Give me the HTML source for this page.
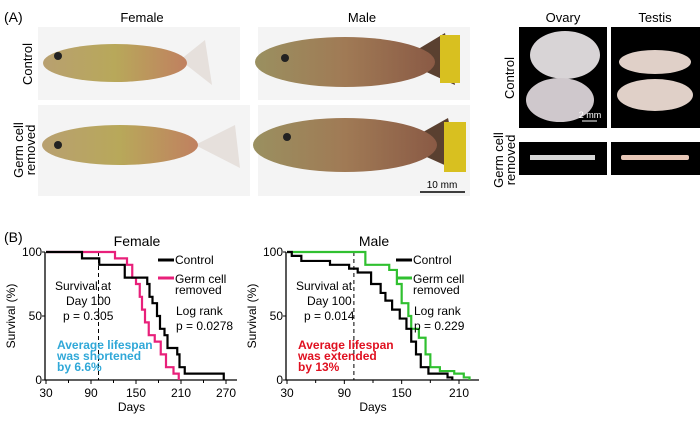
<!DOCTYPE html>
<html><head><meta charset="utf-8"><style>
body{margin:0;background:#fff;width:700px;height:422px;overflow:hidden;font-family:"Liberation Sans",sans-serif}
</style></head><body>
<svg width="700" height="422" viewBox="0 0 700 422" font-family="Liberation Sans, sans-serif">
<defs>
<linearGradient id="ff" x1="0" y1="0" x2="1" y2="0"><stop offset="0" stop-color="#b8a070"/><stop offset="0.5" stop-color="#b8a85a"/><stop offset="1" stop-color="#c08060"/></linearGradient>
<linearGradient id="mf" x1="0" y1="0" x2="1" y2="0"><stop offset="0" stop-color="#9a9060"/><stop offset="0.5" stop-color="#a07a55"/><stop offset="1" stop-color="#8a5a45"/></linearGradient>
</defs>
<text x="4" y="22" font-size="14">(A)</text>
<text x="142" y="22" font-size="13" text-anchor="middle">Female</text>
<text x="362" y="22" font-size="13" text-anchor="middle">Male</text>
<text transform="translate(32,64) rotate(-90)" font-size="13" text-anchor="middle">Control</text>
<text transform="translate(23,150) rotate(-90)" font-size="13" text-anchor="middle"><tspan x="0" dy="0">Germ cell</tspan><tspan x="0" dy="12">removed</tspan></text>
<g><rect x="38" y="27" width="202" height="73" fill="#f4f4f4"/><path d="M180 60 L205 40 L212 85 Z" fill="#e6e0dc"/><ellipse cx="115" cy="63" rx="72" ry="19" fill="url(#ff)"/><circle cx="58" cy="56" r="4" fill="#222"/></g>
<g><rect x="38" y="105" width="212" height="91" fill="#f4f4f4"/><path d="M195 145 L235 125 L240 168 Z" fill="#e6e0dc"/><ellipse cx="120" cy="145" rx="78" ry="20" fill="url(#ff)"/><circle cx="58" cy="145" r="4" fill="#222"/></g>
<g><rect x="258" y="27" width="212" height="73" fill="#f4f4f4"/><path d="M400 60 L445 33 L455 85 Z" fill="#5a4030"/><rect x="440" y="35" width="20" height="48" fill="#d8c020"/><ellipse cx="345" cy="62" rx="90" ry="25" fill="url(#mf)"/><circle cx="285" cy="58" r="4" fill="#222"/></g>
<g><rect x="258" y="105" width="212" height="91" fill="#f4f4f4"/><path d="M400 145 L448 118 L460 172 Z" fill="#5a4030"/><rect x="444" y="122" width="22" height="50" fill="#d8c020"/><ellipse cx="345" cy="145" rx="92" ry="27" fill="url(#mf)"/><circle cx="287" cy="137" r="4" fill="#222"/></g>
<line x1="420" y1="192" x2="465" y2="192" stroke="#000" stroke-width="1.5"/>
<text x="442" y="188" font-size="10" text-anchor="middle">10 mm</text>
<text x="563" y="22" font-size="13" text-anchor="middle">Ovary</text>
<text x="655" y="22" font-size="13" text-anchor="middle">Testis</text>
<text transform="translate(514,78) rotate(-90)" font-size="13" text-anchor="middle">Control</text>
<text transform="translate(503,160) rotate(-90)" font-size="13" text-anchor="middle"><tspan x="0">Germ cell</tspan><tspan x="0" dy="12">removed</tspan></text>
<g><rect x="519" y="27" width="88" height="101" fill="#000"/><ellipse cx="565" cy="55" rx="35" ry="24" fill="#d8d4d6"/><ellipse cx="560" cy="100" rx="34" ry="22" fill="#cfc8cc"/><line x1="582" y1="121" x2="597" y2="121" stroke="#fff"/><text x="590" y="118" font-size="9" fill="#fff" text-anchor="middle">2 mm</text></g>
<g><rect x="611" y="27" width="89" height="101" fill="#000"/><ellipse cx="655" cy="62" rx="36" ry="12" fill="#e0d0c8"/><ellipse cx="655" cy="95" rx="38" ry="16" fill="#e0d0c8"/></g>
<g><rect x="519" y="142" width="88" height="33" fill="#000"/><rect x="530" y="155" width="65" height="5" fill="#d8d8d8"/></g>
<g><rect x="611" y="142" width="89" height="33" fill="#000"/><rect x="621" y="155" width="68" height="5" rx="2" fill="#e8c8b8"/></g>
<text x="4" y="242" font-size="14">(B)</text>
<g id="charts"></g>
</svg>
<script>
const fTicks=[30,90,150,210,270];
const fControlDays=[78,101,135,165,168,172,178,182,188,192,205,208,215,267];
const fControlSurv=[95,90,80,75,65,60,50,40,35,25,20,10,5,0];
const fGermDays=[122,138,145,150,155,158,162,167,175,183,190,200,207];
const fGermSurv=[95,90,80,75,65,55,45,35,30,20,10,5,0];
const mTicks=[30,90,150,210];
const mControlDays=[35,45,75,95,104,118,128,133,140,148,155,160,165,170,178,198,203];
const mControlSurv=[97,93,90,87,84,75,68,62,55,48,40,30,20,10,5,2,0];
const mGermDays=[112,137,145,150,157,160,168,175,180,190,205,215,221];
const mGermSurv=[90,86,75,60,50,40,33,20,10,7,5,2,0];
const yTicks=[0,50,100];
const NS='http://www.w3.org/2000/svg';
const root=document.getElementById('charts');
function mk(tag,attrs,parent){const e=document.createElementNS(NS,tag);for(const k in attrs)e.setAttribute(k,attrs[k]);(parent||root).appendChild(e);return e;}
function chart(o){
  const g=mk('g',{});
  
  
  const X=d=>o.x0+(d-o.d0)*(o.x1-o.x0)/(o.d1-o.d0);
  const Y=s=>380-s*1.28;
  mk('path',{d:`M${o.x0-1} ${Y(100)} V380 H${o.xe}`,stroke:'#000','stroke-width':1.3,fill:'none'},g);
  o.ticks.forEach(t=>{
    mk('line',{x1:X(t),x2:X(t),y1:380,y2:384,stroke:'#000'},g);
    const tx=mk('text',{x:X(t),y:397,'font-size':12,'text-anchor':'middle'},g);tx.textContent=t;
    
    
  });
  o.mid.forEach(t=>mk('line',{x1:X(t),x2:X(t),y1:380,y2:383,stroke:'#000'},g));
  yTicks.forEach(t=>{
    mk('line',{x1:o.x0-4,x2:o.x0-1,y1:Y(t),y2:Y(t),stroke:'#000'},g);
    const tx=mk('text',{x:o.x0-4,y:Y(t)+4,'font-size':12,'text-anchor':'end'},g);tx.textContent=t;
    
    
  });
  const yl=mk('text',{transform:`translate(${o.x0-31},316) rotate(-90)`,'font-size':12,'text-anchor':'middle'},g);yl.textContent='Survival (%)';
  
  
  const xl=mk('text',{x:(o.x0+o.xe)/2-10,y:411,'font-size':12,'text-anchor':'middle'},g);xl.textContent='Days';
  
  
  const tt=mk('text',{x:o.titleX,y:246,'font-size':14,'text-anchor':'middle'},g);tt.textContent=o.title;
  
  
  mk('line',{x1:X(100),x2:X(100),y1:Y(100),y2:380,stroke:'#000','stroke-dasharray':'4,3'},g);
  function step(days,surv,color,name){
    let d=`M${X(o.d0)} ${Y(100)}`;
    days.forEach((dd,i)=>{d+=` H${X(dd)} V${Y(surv[i])}`;});
    const p=mk('path',{d,stroke:color,'stroke-width':2.2,fill:'none'},g);
    
    
  }
  step(o.gDays,o.gSurv,o.gColor,'germ-removed-curve');
  step(o.cDays,o.cSurv,'#000','control-curve');
  const lx=o.legX;
  mk('line',{x1:lx,x2:lx+16,y1:260,y2:260,stroke:'#000','stroke-width':3},g);
  let t=mk('text',{x:lx+17,y:264,'font-size':12},g);t.textContent='Control';
  
  
  mk('line',{x1:lx,x2:lx+16,y1:278,y2:278,stroke:o.gColor,'stroke-width':3},g);
  t=mk('text',{x:lx+17,y:283,'font-size':12},g);t.innerHTML='<tspan>Germ cell</tspan><tspan x="'+(lx+17)+'" dy="11">removed</tspan>';
  
  
  t=mk('text',{x:lx+18,y:315,'font-size':12},g);t.innerHTML='<tspan>Log rank</tspan><tspan x="'+(lx+18)+'" dy="15">p = '+o.lr+'</tspan>';
  
  
  t=mk('text',{x:o.x0+9,y:290,'font-size':12},g);t.innerHTML='<tspan>Survival at</tspan><tspan x="'+(o.x0+20)+'" dy="15">Day 100</tspan><tspan x="'+(o.x0+17)+'" dy="15">p = '+o.p100+'</tspan>';
  
  
  t=mk('text',{x:o.x0+11,y:349,'font-size':12,'font-weight':'bold',fill:o.aColor},g);t.innerHTML=o.avg.map((s,i)=>'<tspan x="'+(o.x0+11)+'" dy="'+(i?11:0)+'">'+s+'</tspan>').join('');
  
  
}
chart({name:'female-survival-chart',x0:46,x1:226,d0:30,d1:270,xe:237,ticks:fTicks,mid:[60,120,180,240],title:'Female',titleX:137,
  cDays:fControlDays,cSurv:fControlSurv,gDays:fGermDays,gSurv:fGermSurv,gColor:'#e8207a',legX:158,lr:'0.0278',p100:'0.305',
  aColor:'#30a8d8',avg:['Average lifespan','was shortened','by 6.6%']});
chart({name:'male-survival-chart',x0:287,x1:459,d0:30,d1:210,xe:479,ticks:mTicks,mid:[60,120,180],title:'Male',titleX:374,
  cDays:mControlDays,cSurv:mControlSurv,gDays:mGermDays,gSurv:mGermSurv,gColor:'#30c030',legX:396,lr:'0.229',p100:'0.014',
  aColor:'#e01020',avg:['Average lifespan','was extended','by 13%']});
</script>
</body></html>
